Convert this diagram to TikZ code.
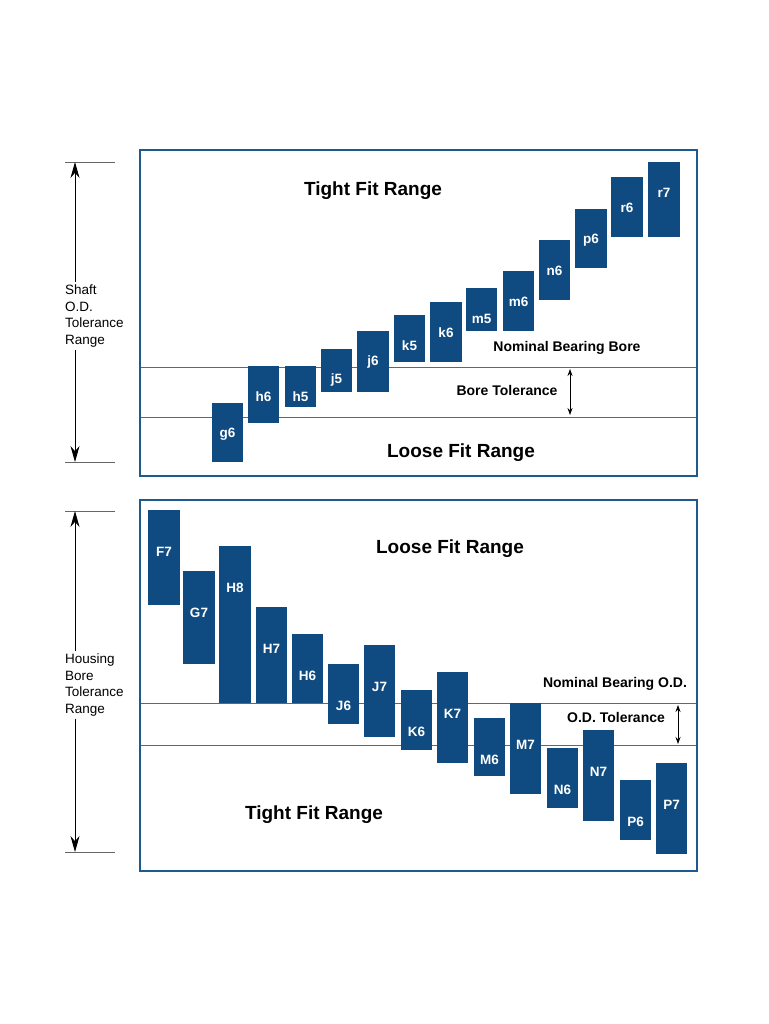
\documentclass[tikz,border=0pt]{standalone}
\usepackage{fontspec}
\setmainfont{Liberation Sans}
\usetikzlibrary{arrows.meta}
\definecolor{bb}{HTML}{0F4A80}
\definecolor{fr}{HTML}{1F5A8E}
\begin{document}
\begin{tikzpicture}[x=1pt,y=-1pt,
  bar/.style={fill=bb,draw=none},
  blab/.style={text=white,font=\bfseries\fontsize{13.5}{15}\selectfont,inner sep=0},
  frame/.style={draw=fr,line width=1.5pt},
  ref/.style={draw=black!60,line width=0.8pt},
  big/.style={font=\bfseries\fontsize{19}{22}\selectfont},
  mid/.style={font=\bfseries\fontsize{14}{16}\selectfont},
  side/.style={font=\fontsize{13.5}{16.5}\selectfont,align=left,anchor=west,inner xsep=0,inner ysep=3pt,fill=white},
  dim/.style={{Stealth[length=16pt,width=9pt]}-{Stealth[length=16pt,width=9pt]},line width=0.8pt},
  sdim/.style={{Stealth[length=7pt,width=5pt]}-{Stealth[length=7pt,width=5pt]},line width=0.8pt}]
\useasboundingbox (0,0) rectangle (768,1024);
% top panel
\draw[ref] (140,367) -- (697,367);
\draw[ref] (140,417) -- (697,417);
\foreach \n/\a/\b/\c/\d in {g6/212/403/243/462,h6/248/366/279/423,h5/285/366/316/407,j5/321/349/352/392,j6/357/331/389/392,k5/394/315/425/362,k6/430/302/462/362,m5/466/288/497/331,m6/503/271/534/331,n6/539/240/570/300,p6/575/209/607/268,r6/611/177/643/237,r7/648/162/680/237}{
  \fill[bar] (\a,\b) rectangle (\c,\d);
  \node[blab] (t\n) at ({(\a+\c)/2},\b+31) {\n};
}
\draw[frame] (140,150) rectangle (697,476);
\node[big] (tft) at (373,191) {Tight Fit Range};
\node[mid] (nbb) at (567,348) {Nominal Bearing Bore};
\node[mid] (bt) at (507,390) {Bore Tolerance};
\coordinate (bt1) at (570,369); \coordinate (bt2) at (570,415);
\draw[sdim] (bt1) -- (bt2);
\node[big] (lfr) at (461,453) {Loose Fit Range};
\coordinate (s1) at (75,162); \coordinate (s2) at (75,462);
\draw[black!60] (65,162) -- (115,162); \draw[black!60] (65,462) -- (115,462);
\draw[dim] (s1) -- (s2);
\node[side] (sl) at (65,316) {Shaft\\O.D.\\Tolerance\\Range};
% bottom panel
\draw[ref] (140,703) -- (697,703);
\draw[ref] (140,745) -- (697,745);
\foreach \n/\a/\b/\c/\d in {F7/148/510/180/605,G7/183/571/215/664,H8/219/546/251/703,H7/256/607/287/703,H6/292/634/323/703,J6/328/664/359/724,J7/364/645/395/737,K6/401/690/432/750,K7/437/672/468/763,M6/474/718/505/776,M7/510/703/541/794,N6/547/748/578/808,N7/583/730/614/821,P6/620/780/651/840,P7/656/763/687/854}{
  \fill[bar] (\a,\b) rectangle (\c,\d);
  \node[blab] (b\n) at ({(\a+\c)/2},\b+42) {\n};
}
\draw[frame] (140,500) rectangle (697,871);
\node[big] (lfr2) at (450,549) {Loose Fit Range};
\node[mid] (nbo) at (615,684) {Nominal Bearing O.D.};
\node[mid] (odt) at (616,717) {O.D. Tolerance};
\coordinate (o1) at (678,705); \coordinate (o2) at (678,744);
\draw[sdim] (o1) -- (o2);
\node[big] (tfr2) at (314,815) {Tight Fit Range};
\coordinate (h1) at (75,511); \coordinate (h2) at (75,852);
\draw[black!60] (65,511) -- (115,511); \draw[black!60] (65,852) -- (115,852);
\draw[dim] (h1) -- (h2);
\node[side] (hl) at (65,685) {Housing\\Bore\\Tolerance\\Range};
\end{tikzpicture}
\end{document}
